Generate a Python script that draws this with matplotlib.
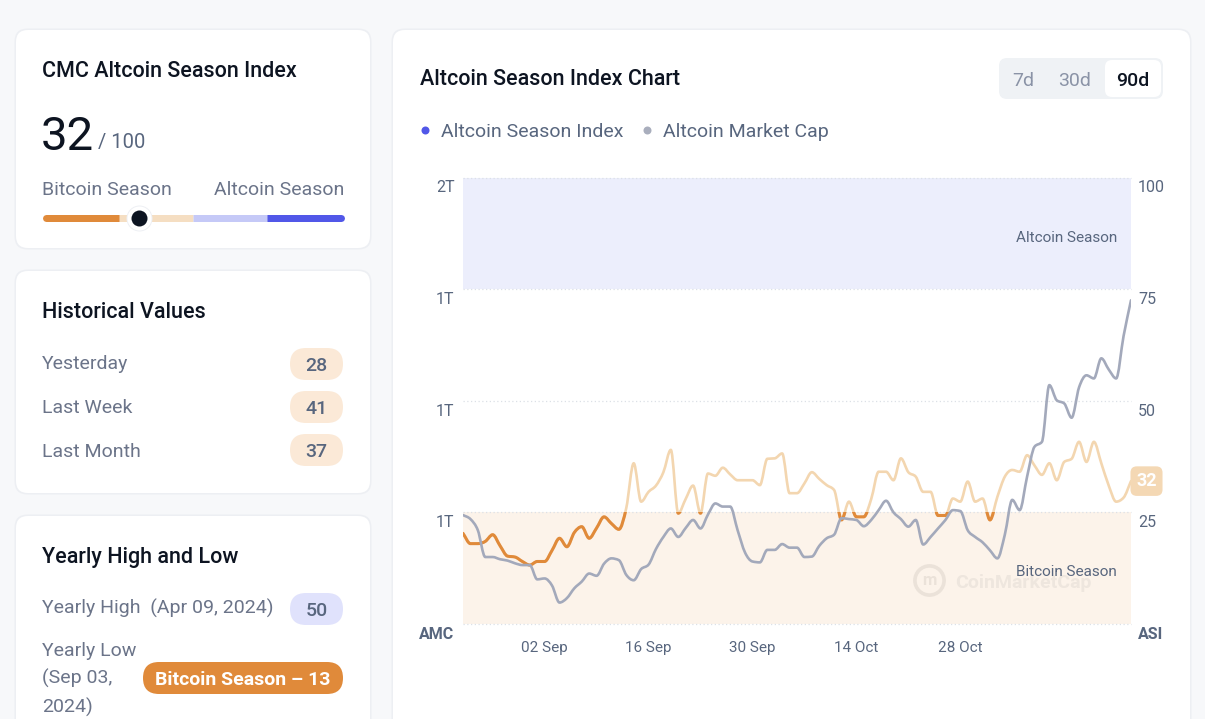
import matplotlib
matplotlib.use('Agg')
import matplotlib.pyplot as plt
import matplotlib.dates as mdates
from matplotlib.patches import FancyBboxPatch, Rectangle, PathPatch
from matplotlib.path import Path
from matplotlib.transforms import blended_transform_factory, ScaledTranslation
from matplotlib.ticker import FuncFormatter
import numpy as np
import pandas as pd

plt.rcParams['font.family'] = ['Roboto', 'DejaVu Sans']

# ---- data ----
dates = pd.date_range('2024-08-22', periods=91, freq='D')

# Altcoin Season Index (0-100)
asi = [20.3, 18, 18, 18.5, 20, 17.5, 15.2, 15, 14, 13.2,
       14, 14, 16.5, 19.2, 17.3, 20.5, 21.8, 19.2, 21.5, 24,
       22.5, 21.2, 26, 36, 27.4, 29.6, 31, 34, 39, 24.8,
       28, 31, 24.8, 33.7, 33.2, 35, 33.5, 32.2, 32.2, 32.2,
       31.1, 37, 37.1, 38.2, 29.3, 29.3, 31.5, 34, 32.5, 31.1,
       30, 23.3, 27.4, 24, 24, 28, 34.1, 34.1, 32.2, 37.1,
       34, 33, 29.6, 29.6, 24.3, 24.3, 28.1, 27.4, 31.9, 27.4,
       28.1, 23.3, 28.5, 33, 34.5, 34.1, 37.8, 35.5, 33.4, 36,
       32.2, 36.3, 37, 40.8, 36.3, 40.8, 36, 31, 27.4, 28.3, 32]

# Altcoin market cap, trillions USD
cap_t = [1.244, 1.235, 1.21, 1.15, 1.15, 1.145, 1.142, 1.136, 1.132, 1.132,
         1.10, 1.102, 1.086, 1.048, 1.058, 1.08, 1.095, 1.113, 1.108, 1.135,
         1.147, 1.143, 1.11, 1.098, 1.123, 1.133, 1.168, 1.195, 1.214, 1.195,
         1.215, 1.233, 1.214, 1.245, 1.27, 1.263, 1.263, 1.21, 1.16, 1.14,
         1.138, 1.166, 1.166, 1.179, 1.171, 1.171, 1.15, 1.151, 1.175, 1.192,
         1.20, 1.237, 1.235, 1.233, 1.219, 1.233, 1.255, 1.276, 1.25, 1.235,
         1.218, 1.233, 1.178, 1.195, 1.214, 1.233, 1.255, 1.253, 1.21, 1.195,
         1.183, 1.165, 1.147, 1.20, 1.278, 1.255, 1.33, 1.397, 1.408, 1.535,
         1.501, 1.494, 1.462, 1.53, 1.557, 1.55, 1.595, 1.57, 1.55, 1.645, 1.725]

index_now = 32
hist_labels = ['Yesterday', 'Last Week', 'Last Month']
hist_values = [28, 41, 37]
yearly_high = 50
yearly_high_date = 'Apr 09, 2024'
yearly_low = 13

date_ticks = ['2024-09-02', '2024-09-16', '2024-09-30', '2024-10-14', '2024-10-28']
asi_ticks = [0, 25, 50, 75, 100]
cap_ticks = [1.0, 1.25, 1.5, 1.75, 2.0]
ranges = ['7d', '30d', '90d']

# ---- colours ----
DARK = '#0D1421'
GREY = '#58667E'
SOFT = '#6B7489'
ORANGE = '#E08A3A'
ORANGE_LT = '#F3D6B0'
BLUE = '#5157E8'
LINE_GREY = '#A3A9BB'

W, H = 1205, 719
fig = plt.figure(figsize=(W / 100, H / 100), dpi=100)
fig.patch.set_facecolor('#F7F8FA')

# background layer in pixel coordinates
bg = fig.add_axes([0, 0, 1, 1])
bg.set_xlim(0, W)
bg.set_ylim(H, 0)
bg.axis('off')


def card(x0, y0, x1, y1):
    bg.add_patch(FancyBboxPatch((x0 - 1.5, y0 - 1.5), x1 - x0 + 3, y1 - y0 + 3,
                                boxstyle='round,pad=0,rounding_size=13',
                                fc='#EDEFF3', ec='none'))
    bg.add_patch(FancyBboxPatch((x0, y0), x1 - x0, y1 - y0,
                                boxstyle='round,pad=0,rounding_size=12',
                                fc='white', ec='none'))


def pill(x0, x1, yc, h, color, text, tcolor, weight='medium'):
    bg.add_patch(FancyBboxPatch((x0, yc - h / 2), x1 - x0, h,
                                boxstyle='round,pad=0,rounding_size=%f' % (h / 2),
                                fc=color, ec='none'))
    bg.text((x0 + x1) / 2, yc, text, ha='center', va='center_baseline',
            fontsize=14, color=tcolor, fontweight=weight)


def smooth_path(x, y):
    # monotone cubic through the data points, drawn as bezier segments
    x = np.asarray(x, float)
    y = np.asarray(y, float)
    h = np.diff(x)
    s = np.diff(y) / h
    m = np.zeros_like(y)
    for k in range(1, len(y) - 1):
        p = (s[k - 1] * h[k] + s[k] * h[k - 1]) / (h[k - 1] + h[k])
        m[k] = (np.sign(s[k - 1]) + np.sign(s[k])) * min(abs(s[k - 1]), abs(s[k]), 0.5 * abs(p))
    m[0] = s[0]
    m[-1] = s[-1]
    verts = [(x[0], y[0])]
    codes = [Path.MOVETO]
    for k in range(len(x) - 1):
        d = h[k] / 3
        verts += [(x[k] + d, y[k] + m[k] * d), (x[k + 1] - d, y[k + 1] - m[k + 1] * d),
                  (x[k + 1], y[k + 1])]
        codes += [Path.CURVE4] * 3
    return Path(verts, codes)


card(16, 30, 370, 248)
card(16, 271, 370, 493)
card(16, 516, 370, 760)
card(393, 30, 1190, 760)

# card 1: current value
bg.text(42, 77, 'CMC Altcoin Season Index', fontsize=15.5, fontweight='medium',
        color=DARK, va='baseline')
bg.text(41, 150, str(index_now), fontsize=34, color=DARK, va='baseline')
bg.text(98, 148, '/ 100', fontsize=14.5, color=GREY, va='baseline')
bg.text(42, 195, 'Bitcoin Season', fontsize=14, color=SOFT, va='baseline')
bg.text(344, 195, 'Altcoin Season', fontsize=14, color=SOFT, va='baseline', ha='right')

bx0, bx1, by = 45.5, 340.5, 218
q = [bx0 + (bx1 - bx0) * f for f in (0, 0.25, 0.5, 0.75, 1)]
lw_bar = 7 * 0.72
bg.plot([q[0], q[1]], [by, by], color=ORANGE, lw=lw_bar, solid_capstyle='round')
bg.plot([q[3], q[4]], [by, by], color=BLUE, lw=lw_bar, solid_capstyle='round')
bg.plot([q[1], q[2]], [by, by], color='#F5DEC2', lw=lw_bar, solid_capstyle='butt')
bg.plot([q[2], q[3]], [by, by], color='#C5C9F7', lw=lw_bar, solid_capstyle='butt')
mx = bx0 - 3.5 + (bx1 - bx0 + 7) * index_now / 100
bg.plot(mx, by, 'o', ms=26 * 0.72, mfc='#EEF0F4', mec='none')
bg.plot(mx, by, 'o', ms=24 * 0.72, mfc='white', mec='none')
bg.plot(mx, by, 'o', ms=16 * 0.72, mfc=DARK, mec='none')

# card 2: historical values
bg.text(42, 318, 'Historical Values', fontsize=15.5, fontweight='medium',
        color=DARK, va='baseline')
for lab, val, yb, yc in zip(hist_labels, hist_values, [369, 413, 457], [364, 407, 450]):
    bg.text(42, yb, lab, fontsize=14, color=SOFT, va='baseline')
    pill(290, 343, yc, 32, '#FBE9D7', str(val), GREY)

# card 3: yearly high and low
bg.text(42, 563, 'Yearly High and Low', fontsize=15.5, fontweight='medium',
        color=DARK, va='baseline')
bg.text(42, 614, 'Yearly High  (%s)' % yearly_high_date, fontsize=14, color=SOFT, va='baseline')
pill(290, 343, 609, 32, '#E0E2FC', str(yearly_high), GREY)
bg.text(42, 656, 'Yearly Low', fontsize=14, color=SOFT, va='baseline')
bg.text(42, 684, '(Sep 03,', fontsize=14, color=SOFT, va='baseline')
bg.text(42, 713, '2024)', fontsize=14, color=SOFT, va='baseline')
pill(143, 343, 678, 32, ORANGE, 'Bitcoin Season \u2013 %d' % yearly_low, 'white', 'bold')

# chart card header
bg.text(420, 85, 'Altcoin Season Index Chart', fontsize=15.5, fontweight='medium',
        color=DARK, va='baseline')
bg.add_patch(FancyBboxPatch((999, 58), 164, 41, boxstyle='round,pad=0,rounding_size=8',
                            fc='#EFF2F5', ec='none'))
bg.add_patch(FancyBboxPatch((1105, 60), 56, 37, boxstyle='round,pad=0,rounding_size=7',
                            fc='white', ec='none'))
for lab, xc in zip(ranges, [1023, 1075, 1133]):
    bg.text(xc, 79, lab, ha='center', va='center_baseline', fontsize=14,
            color=DARK if lab == '90d' else '#8A93A6',
            fontweight='medium' if lab == '90d' else 'normal')

bg.plot(425, 130, 'o', ms=8 * 0.72, mfc=BLUE, mec='none')
bg.text(441, 130, 'Altcoin Season Index', fontsize=14, color=GREY, va='center_baseline')
bg.plot(647, 130, 'o', ms=8 * 0.72, mfc='#A9AEBD', mec='none')
bg.text(663, 130, 'Altcoin Market Cap', fontsize=14, color=GREY, va='center_baseline')

# ---- chart ----
ax = fig.add_axes([463 / W, 1 - 624 / H, 668 / W, (624 - 177.5) / H])
ax.set_facecolor('none')
ax.axhspan(75, 100, color='#ECEEFC', lw=0, zorder=0)
ax.axhspan(0, 25, color='#FCF3EA', lw=0, zorder=0)
for v in asi_ticks:
    ax.axhline(v, color='#DCE0E7', lw=0.9, ls=(0, (1, 2)), zorder=1, clip_on=False)

xnum = mdates.date2num(dates)
asi_path = smooth_path(xnum, asi)
ax.add_patch(PathPatch(asi_path, fill=False, ec=ORANGE_LT, lw=1.9, zorder=3,
                       joinstyle='round', capstyle='round'))
dark_line = ax.add_patch(PathPatch(asi_path, fill=False, ec=ORANGE, lw=2.2, zorder=4,
                                   joinstyle='round', capstyle='round'))
zone = Rectangle((0, 0), 1, 25, transform=blended_transform_factory(ax.transAxes, ax.transData))
dark_line.set_clip_path(zone)

tr = blended_transform_factory(ax.transAxes, ax.transData)
ax.text(0.979, 86.5, 'Altcoin Season', transform=tr, ha='right', va='center',
        fontsize=11, color=GREY)
ax.text(0.979, 11.6, 'Bitcoin Season', transform=tr, ha='right', va='center',
        fontsize=11, color=GREY, zorder=3)

# watermark
ax.plot([0.6976], [0.0985], 'o', ms=21, mfc='none', mec='#EBE2D9', mew=2.6,
        transform=ax.transAxes, zorder=2)
ax.text(0.6976, 0.0985, 'm', transform=ax.transAxes, ha='center', va='center',
        fontsize=12, fontweight='bold', color='#EBE2D9', zorder=2)
ax.text(0.7365, 0.091, 'CoinMarketCap', transform=ax.transAxes, ha='left', va='center',
        fontsize=14, fontweight='bold', color='#EEE6DE', zorder=2)

ax.text(1 + 15.5 / 668, asi[-1], '%.0f' % asi[-1], transform=tr, ha='center',
        va='center', fontsize=13, fontweight='bold', color='white', clip_on=False,
        bbox=dict(boxstyle='round,pad=0.32,rounding_size=0.35', fc='#F4D8B4', ec='none'))

ax.set_ylim(0, 100)
ax.set_xlim(dates[0], dates[-1])

ax2 = ax.twinx()
ax2.add_patch(PathPatch(smooth_path(xnum, cap_t), fill=False, ec=LINE_GREY, lw=1.9,
                        zorder=3, joinstyle='round', capstyle='round'))
ax2.set_ylim(cap_ticks[0], cap_ticks[-1])
ax2.set_xlim(dates[0], dates[-1])

ax.yaxis.tick_right()
ax2.yaxis.tick_left()

ax.set_yticks(asi_ticks)
ax.set_yticklabels(['ASI'] + [str(v) for v in asi_ticks[1:]])
ax.tick_params(axis='y', length=0, pad=5, labelsize=11.5, labelcolor=GREY)

ax2.set_yticks(cap_ticks)
ax2.yaxis.set_major_formatter(FuncFormatter(
    lambda v, p: 'AMC' if v == cap_ticks[0] else '%dT' % int(v)))
ax2.tick_params(axis='y', length=0, pad=6, labelsize=11.5, labelcolor=GREY)

shift = ScaledTranslation(0, -2 / 72, fig.dpi_scale_trans)
for a in (ax, ax2):
    labels = a.get_yticklabels()
    for lbl in labels:
        lbl.set_va('top')
        lbl.set_transform(lbl.get_transform() + shift)
    labels[0].set_fontweight('bold')

ax.set_xticks(pd.to_datetime(date_ticks))
ax.xaxis.set_major_formatter(mdates.DateFormatter('%d %b'))
ax.tick_params(axis='x', length=0, pad=12, labelsize=11, labelcolor=GREY)

for a in (ax, ax2):
    for s in a.spines.values():
        s.set_visible(False)

fig.savefig('out.png', dpi=100, facecolor=fig.get_facecolor())
